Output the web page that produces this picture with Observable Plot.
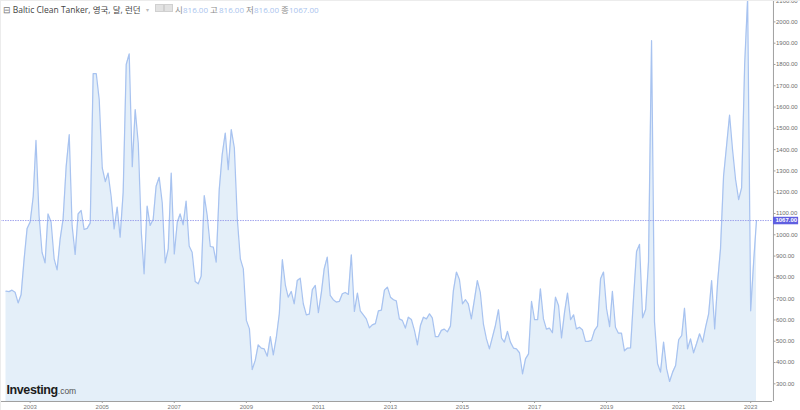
<!DOCTYPE html>
<html><head><meta charset="utf-8">
<script src="https://cdn.jsdelivr.net/npm/d3@7"></script>
<script src="https://cdn.jsdelivr.net/npm/@observablehq/plot@0.6"></script>
<style>
html,body{margin:0;padding:0;background:#fff;overflow:hidden}
#wrap{position:relative;width:800px;height:410px}
#wrap svg{position:absolute;left:0;top:0;display:block}
#frame{position:absolute;left:0;top:0;width:798.5px;height:408.5px;border-top:1.5px solid #ececec;border-left:1.5px solid #ececec}
#head{position:absolute;left:3px;top:4px;height:12px;white-space:nowrap;font:8.5px/12px "Open Sans","Noto Sans CJK KR",sans-serif;color:#444}
#head span{position:absolute;top:0}
.l{color:#8d8d8d}.v{color:#a9c3ee;font-size:8px}
.ic{position:absolute;top:2.5px;width:6.5px;height:6px;background:#e2e2e2;border:.5px solid #d0d0d0}
#logo{position:absolute;left:6.5px;top:383px;font:bold 12.5px/14px "Liberation Sans",sans-serif;letter-spacing:-.4px;color:#1c1c1c;white-space:nowrap}
#logo i{font:normal 8.5px "Liberation Sans",sans-serif;color:#555;letter-spacing:0}
</style></head><body><div id="wrap"></div>
<script>
const startMonth = "2002-05-01";
const closes = [
735,733,740,730,680,718,887,1030,1060,1180,1443,1090,918,868,1098,1060,887,835,980,1075,
1320,1470,1044,908,1098,1114,1025,1030,1055,1757,1757,1635,1314,1250,1290,1180,1028,1130,989,1200,
1800,1850,1320,1588,1430,1012,817,1135,1044,1072,1228,1270,1150,868,934,1290,910,1060,1098,1047,
1158,947,918,781,770,806,1184,1090,945,942,872,1212,1377,1478,1306,1494,1408,1075,887,840,
598,558,367,410,483,468,464,430,522,436,519,629,883,762,707,734,676,785,796,676,
624,627,742,762,634,731,840,895,715,695,684,687,723,729,720,906,640,726,643,624,
605,563,577,583,643,646,740,754,707,695,690,605,
598,562,613,602,551,483,574,613,605,629,610,522,522,551,557,544,571,738,825,790,
676,695,676,605,692,785,728,582,511,464,519,574,648,515,496,546,496,468,464,446,
347,417,441,687,601,601,746,605,557,562,540,707,668,516,637,726,601,624,558,566,
554,499,499,504,551,571,793,825,652,569,734,566,538,538,455,468,469,700,922,955,
610,649,872,1912,590,394,355,496,370,311,355,386,507,527,655,464,511,446,488,535,
496,566,629,785,558,785,934,1275,1416,1562,1400,1259,1165,1220,1800,2110,643,880,1067
];
const yTicks = d3.range(300, 2101, 100);
const yearTicks = [2003,2005,2007,2009,2011,2013,2015,2017,2019,2021,2023];
const lastClose = 1067;
const headLabels = ["시","고","저","종"];
const headValues = ["816.00","816.00","816.00","1067.00"];

const d0 = new Date(startMonth + "T00:00:00Z");
const rows = closes.map((v,i)=>({date:d3.utcMonth.offset(d0,i),v}));
const plot = Plot.plot({
  width:800,height:410,marginTop:0,marginLeft:0,marginRight:28,marginBottom:9,
  style:{background:"transparent",fontFamily:"Liberation Sans, Arial, sans-serif",fontSize:"6px",overflow:"visible"},
  x:{type:"utc",domain:[d0,rows[rows.length-1].date],range:[5.5,756]},
  y:{domain:[217,2100.5],range:[401,0]},
  marks:[
    Plot.areaY(rows,{x:"date",y1:217,y2:"v",fill:"#e4eff9",clip:true}),
    Plot.lineY(rows,{x:"date",y:"v",stroke:"#a8c3f0",strokeWidth:1.25,clip:true}),
    Plot.ruleY([lastClose],{stroke:"#8d8fe8",strokeWidth:.8,strokeDasharray:"1.5 1"}),
    Plot.ruleX([new Date("2023-08-20T00:00:00Z")],{stroke:"#a0a0a0",strokeWidth:1}),
    Plot.ruleY([217],{stroke:"#a0a0a0",strokeWidth:1}),
    Plot.axisY({anchor:"right",ticks:yTicks,tickFormat:d3.format(".2f"),tickSize:2.5,tickPadding:1,stroke:"#a0a0a0",fill:"#6e6e6e",label:null}),
    Plot.axisX({anchor:"bottom",ticks:yearTicks.map(y=>new Date(Date.UTC(y,0,1))),tickFormat:d3.utcFormat("%Y"),tickSize:2,tickPadding:1,stroke:"#a0a0a0",fill:"#777",label:null}),
    Plot.ruleY([lastClose],{x1:new Date("2023-08-20T00:00:00Z"),x2:new Date("2024-05-01T00:00:00Z"),stroke:"#5f5fe0",strokeWidth:7.5}),
    Plot.text([lastClose],{x:new Date("2023-12-28T00:00:00Z"),y:d=>d,text:d=>d3.format(".2f")(d),fill:"#fff",fontWeight:"bold",fontSize:6})
  ]
});
const wrap = document.getElementById("wrap");
wrap.appendChild(plot);
const frame = document.createElement("div"); frame.id="frame"; wrap.appendChild(frame);
const head = document.createElement("div"); head.id="head";
let h = '<span style="left:0;color:#777;font-size:9px">⊟</span><span style="left:9.7px">Baltic Clean Tanker, 영국, 달, 런던</span><span style="left:142.5px;color:#bbb;font-size:6px">▾</span>';
h += '<span class="ic" style="left:152px"></span><span class="ic" style="left:161px"></span>';
const lx=[172,207,243,278], vx=[180,216,251,286];
headLabels.forEach((l,i)=>{h+=`<span class="l" style="left:${lx[i]}px">${l}</span><span class="v" style="left:${vx[i]}px">${headValues[i]}</span>`});
head.innerHTML=h; wrap.appendChild(head);
const logo = document.createElement("div"); logo.id="logo"; logo.innerHTML="Investing<i>.com</i>"; wrap.appendChild(logo);
</script></body></html>
